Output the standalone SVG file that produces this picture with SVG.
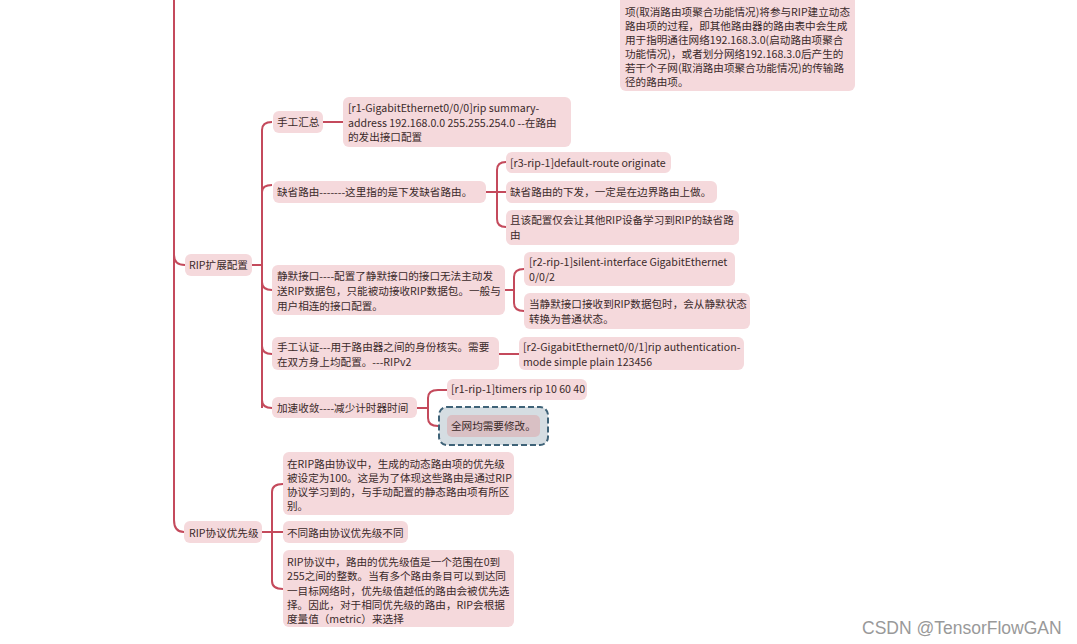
<svg xmlns="http://www.w3.org/2000/svg" width="1077" height="644" viewBox="0 0 1077 644">
<style>
.n{fill:#f5d9dc}
.t{font-family:"Noto Sans CJK SC","Noto Sans",sans-serif;font-size:10.6px;fill:#3b2a2a}
.c{fill:none;stroke:#c44a5c;stroke-width:2}
.w{font-family:"Liberation Sans",sans-serif;font-size:17.5px;fill:#999}
</style>
<rect width="1077" height="644" fill="#fff"/>
<g id="connectors" class="c">
<path d="M174 0 V520 q0 12 10 12"/>
<path d="M174 255 q0 10 11 10"/>
<path d="M252 265 H262 M262 408 V130 q0-8 10-8 M262 192 q0-7 10-7 M262 282 q0 8 10 8 M262 346 q0 8 10 8 M262 400 q0 8 10 8"/>
<path d="M323 122 H343"/>
<path d="M486 192 H506 M497 192 V170 q0-8 9-8 M497 192 V219 q0 8 9 8"/>
<path d="M505 290 H514 M514 290 V277 q0-8 10-8 M514 290 V303 q0 8 10 8"/>
<path d="M499 354 H519"/>
<path d="M417 408 H428 M428 408 V398 q0-8 10-8 H447 M428 408 V418 q0 8 10 8 H447"/>
<path d="M262 532 H272 M272 532 V492 q0-8 11-8 M272 532 H283 M272 532 V581 q0 8 11 8"/>
</g>
<g id="n-top"><rect class="n" x="620" y="-10" width="235" height="101" rx="6"/>
<text class="t"><tspan x="625" y="16">项(取消路由项聚合功能情况)将参与RIP建立动态</tspan><tspan x="625" y="30">路由项的过程，即其他路由器的路由表中会生成</tspan><tspan x="625" y="44">用于指明通往网络192.168.3.0(启动路由项聚合</tspan><tspan x="625" y="58">功能情况)，或者划分网络192.168.3.0后产生的</tspan><tspan x="625" y="72">若干个子网(取消路由项聚合功能情况)的传输路</tspan><tspan x="625" y="86">径的路由项。</tspan></text></g>
<g id="n-ext"><rect class="n" x="185" y="254" width="67" height="22" rx="6"/><text class="t" x="189" y="269">RIP扩展配置</text></g>
<g id="n-sum"><rect class="n" x="273" y="111" width="50" height="22" rx="6"/><text class="t" x="277" y="126">手工汇总</text></g>
<g id="n-sum1"><rect class="n" x="343" y="97" width="228" height="50" rx="6"/><text class="t"><tspan x="348" y="112">[r1-GigabitEthernet0/0/0]rip summary-</tspan><tspan x="348" y="127">address 192.168.0.0 255.255.254.0 --在路由</tspan><tspan x="348" y="141">的发出接口配置</tspan></text></g>
<g id="n-def"><rect class="n" x="273" y="181" width="213" height="22" rx="6"/><text class="t" x="277" y="196">缺省路由-------这里指的是下发缺省路由。</text></g>
<g id="n-def1"><rect class="n" x="506" y="152" width="165" height="21" rx="6"/><text class="t" x="510" y="167">[r3-rip-1]default-route originate</text></g>
<g id="n-def2"><rect class="n" x="506" y="181" width="211" height="22" rx="6"/><text class="t" x="510" y="196">缺省路由的下发，一定是在边界路由上做。</text></g>
<g id="n-def3"><rect class="n" x="506" y="210" width="233" height="35" rx="6"/><text class="t"><tspan x="510" y="224">且该配置仅会让其他RIP设备学习到RIP的缺省路</tspan><tspan x="510" y="239">由</tspan></text></g>
<g id="n-sil"><rect class="n" x="272" y="265" width="233" height="50" rx="6"/><text class="t"><tspan x="277" y="280">静默接口----配置了静默接口的接口无法主动发</tspan><tspan x="277" y="295">送RIP数据包，只能被动接收RIP数据包。一般与</tspan><tspan x="277" y="310">用户相连的接口配置。</tspan></text></g>
<g id="n-sil1"><rect class="n" x="524" y="252" width="211" height="34" rx="6"/><text class="t"><tspan x="529" y="266">[r2-rip-1]silent-interface GigabitEthernet</tspan><tspan x="529" y="281">0/0/2</tspan></text></g>
<g id="n-sil2"><rect class="n" x="524" y="293" width="226" height="36" rx="6"/><text class="t"><tspan x="529" y="308">当静默接口接收到RIP数据包时，会从静默状态</tspan><tspan x="529" y="323">转换为普通状态。</tspan></text></g>
<g id="n-auth"><rect class="n" x="272" y="337" width="227" height="33" rx="6"/><text class="t"><tspan x="277" y="351">手工认证---用于路由器之间的身份核实。需要</tspan><tspan x="277" y="366">在双方身上均配置。---RIPv2</tspan></text></g>
<g id="n-auth1"><rect class="n" x="519" y="337" width="225" height="33" rx="6"/><text class="t"><tspan x="523" y="351">[r2-GigabitEthernet0/0/1]rip authentication-</tspan><tspan x="523" y="366">mode simple plain 123456</tspan></text></g>
<g id="n-fast"><rect class="n" x="272" y="397" width="145" height="21" rx="6"/><text class="t" x="277" y="412">加速收敛----减少计时器时间</text></g>
<g id="n-fast1"><rect class="n" x="447" y="379" width="140" height="21" rx="6"/><text class="t" x="451" y="393">[r1-rip-1]timers rip 10 60 40</text></g>
<g id="n-fast2"><rect x="439" y="407" width="109" height="38" rx="8" fill="#d5dde2" stroke="#3f6378" stroke-width="2" stroke-dasharray="6 3"/><rect x="447" y="415" width="93" height="22" rx="5" fill="#d9c0c4"/><text class="t" x="451" y="430">全网均需要修改。</text></g>
<g id="n-pri"><rect class="n" x="184" y="521" width="78" height="22" rx="6"/><text class="t" x="189" y="537">RIP协议优先级</text></g>
<g id="n-pri1"><rect class="n" x="283" y="452" width="231" height="63" rx="6"/><text class="t"><tspan x="287" y="468">在RIP路由协议中，生成的动态路由项的优先级</tspan><tspan x="287" y="482">被设定为100。这是为了体现这些路由是通过RIP</tspan><tspan x="287" y="496">协议学习到的，与手动配置的静态路由项有所区</tspan><tspan x="287" y="510">别。</tspan></text></g>
<g id="n-pri2"><rect class="n" x="283" y="521" width="125" height="22" rx="6"/><text class="t" x="287" y="537">不同路由协议优先级不同</text></g>
<g id="n-pri3"><rect class="n" x="283" y="550" width="231" height="77" rx="6"/><text class="t"><tspan x="287" y="566">RIP协议中，路由的优先级值是一个范围在0到</tspan><tspan x="287" y="580">255之间的整数。当有多个路由条目可以到达同</tspan><tspan x="287" y="595">一目标网络时，优先级值越低的路由会被优先选</tspan><tspan x="287" y="609">择。因此，对于相同优先级的路由，RIP会根据</tspan><tspan x="287" y="623">度量值（metric）来选择</tspan></text></g>
<text class="w" x="862" y="634">CSDN @TensorFlowGAN</text>
</svg>
